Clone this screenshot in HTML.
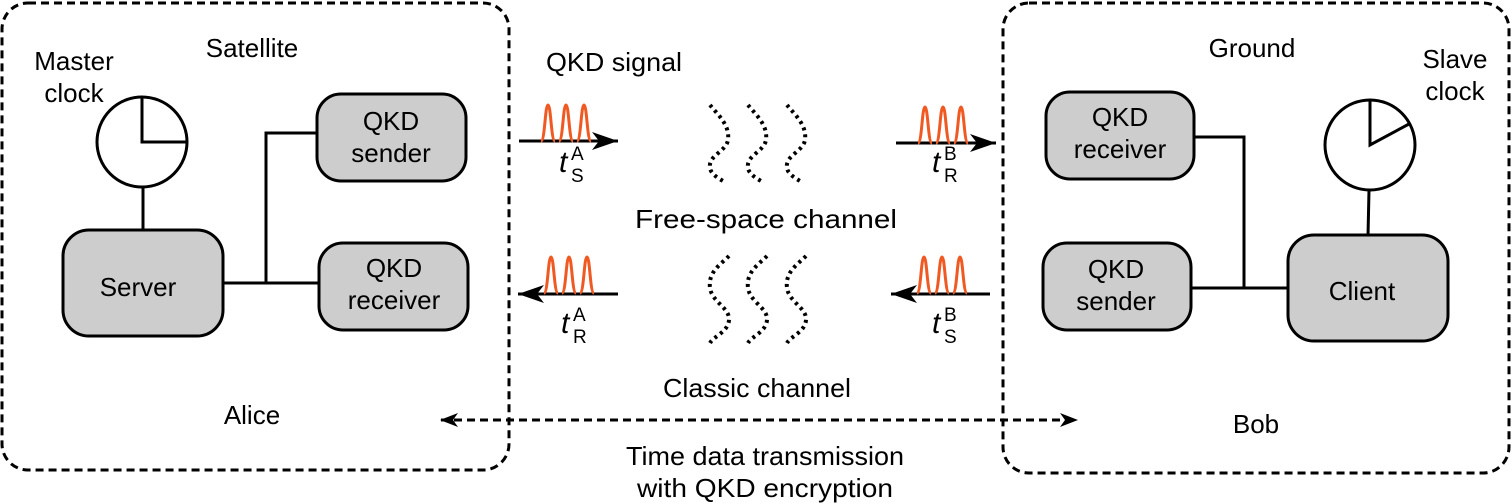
<!DOCTYPE html>
<html><head><meta charset="utf-8"><style>
html,body{margin:0;padding:0;background:#fff;}
svg{display:block;font-family:"Liberation Sans",Arial,sans-serif;}
</style></head><body>
<svg width="1512" height="504" viewBox="0 0 1512 504" xmlns="http://www.w3.org/2000/svg">
<defs>
<marker id="ah" markerWidth="18" markerHeight="14" refX="17" refY="7" orient="auto-start-reverse" markerUnits="userSpaceOnUse">
<path d="M0,0 L18,7 L0,14 L5,7 Z" fill="#000"/></marker>
<marker id="ah2" markerWidth="26" markerHeight="18" refX="26" refY="9" orient="auto" markerUnits="userSpaceOnUse">
<path d="M0,0 L26,9 L0,18 L7,9 Z" fill="#000"/></marker>
<path id="pulses" d="M0,0 C4,0 4,-36 7,-36 C10,-36 10,0 14,0 M18,0 C22,0 22,-36 25,-36 C28,-36 28,0 32,0 M36,0 C40,0 40,-36 43,-36 C46,-36 46,0 50,0" fill="none" stroke="#f05a22" stroke-width="3"/>
<path id="wv1" d="M710,105 C718,115 730,125 728,140 C726,152 708,155 710,168 C711,174 718,178 723,181" fill="none" stroke="#000" stroke-width="4" stroke-dasharray="3,4"/>
<path id="wv2" d="M729,256 C720,265 708,272 710,288 C712,302 730,308 729,320 C728,332 714,336 710,343" fill="none" stroke="#000" stroke-width="4" stroke-dasharray="3,4"/>
</defs>
<g fill="none" stroke="#000" stroke-width="3" stroke-dasharray="8,5">
<rect x="2" y="3" width="507" height="467" rx="26"/>
<rect x="1003" y="3" width="506" height="470" rx="26"/>
</g>
<line x1="441" y1="420" x2="1077" y2="420" stroke="#000" stroke-width="3" stroke-dasharray="8,5" marker-end="url(#ah)" marker-start="url(#ah)"/>
<g fill="none" stroke="#000" stroke-width="3">
<circle cx="142" cy="142" r="45" fill="#fff"/>
<path d="M142,97 L142,142 L187,142"/>
<line x1="143" y1="187" x2="143" y2="231"/>
<path d="M223,283 L318,283 M266,283 L266,133 L318,133"/>
<circle cx="1370" cy="145" r="45" fill="#fff"/>
<path d="M1370,100 L1370,145 L1409,124"/>
<line x1="1369" y1="190" x2="1368" y2="236"/>
<path d="M1194,137 L1244,137 L1244,288 M1191,288 L1289,288"/>
</g>
<g fill="#cdcdcd" stroke="#000" stroke-width="3">
<rect x="63" y="230" width="160" height="106" rx="26"/>
<rect x="317" y="94" width="149" height="87" rx="24"/>
<rect x="319" y="243" width="149" height="87" rx="24"/>
<rect x="1288" y="235" width="160" height="106" rx="26"/>
<rect x="1046" y="92" width="148" height="87" rx="24"/>
<rect x="1043" y="243" width="148" height="87" rx="24"/>
</g>
<g font-size="26" text-anchor="middle" fill="#000">
<text x="252" y="57">Satellite</text>
<text x="74" y="70">Master</text><text x="74" y="102">clock</text>
<text x="138" y="296">Server</text>
<text x="391" y="130">QKD</text><text x="391" y="162">sender</text>
<text x="394" y="277">QKD</text><text x="394" y="309">receiver</text>
<text x="252" y="424">Alice</text>
<text x="1252" y="57">Ground</text>
<text x="1455" y="68">Slave</text><text x="1455" y="100">clock</text>
<text x="1120" y="126">QKD</text><text x="1120" y="158">receiver</text>
<text x="1116" y="278">QKD</text><text x="1116" y="310">sender</text>
<text x="1362" y="300">Client</text>
<text x="1256" y="433">Bob</text>
<text x="614" y="71" textLength="136" lengthAdjust="spacingAndGlyphs">QKD signal</text>
<text x="766" y="228" textLength="262" lengthAdjust="spacingAndGlyphs">Free-space channel</text>
<text x="757" y="397" textLength="188" lengthAdjust="spacingAndGlyphs">Classic channel</text>
<text x="765" y="465" textLength="278" lengthAdjust="spacingAndGlyphs">Time data transmission</text>
<text x="765" y="497" textLength="256" lengthAdjust="spacingAndGlyphs">with QKD encryption</text>
</g>
<g stroke="#000" stroke-width="3">
<line x1="519" y1="141" x2="618" y2="141" marker-end="url(#ah2)"/>
<line x1="896" y1="143" x2="996" y2="143" marker-end="url(#ah2)"/>
<line x1="618" y1="294" x2="518" y2="294" marker-end="url(#ah2)"/>
<line x1="990" y1="294" x2="891" y2="294" marker-end="url(#ah2)"/>
</g>
<use href="#pulses" x="541" y="141"/>
<use href="#pulses" x="918" y="143"/>
<use href="#pulses" x="544" y="293"/>
<use href="#pulses" x="917" y="293"/>
<use href="#wv1"/><use href="#wv1" x="38"/><use href="#wv1" x="77"/>
<use href="#wv2"/><use href="#wv2" x="38"/><use href="#wv2" x="77"/>
<g font-size="30" fill="#000">
<text x="559" y="172" font-style="italic">t</text><text x="571" y="160" font-size="19">A</text><text x="571" y="182" font-size="19">S</text>
<text x="932" y="172" font-style="italic">t</text><text x="944" y="160" font-size="19">B</text><text x="944" y="182" font-size="19">R</text>
<text x="561" y="333" font-style="italic">t</text><text x="573" y="321" font-size="19">A</text><text x="573" y="343" font-size="19">R</text>
<text x="932" y="333" font-style="italic">t</text><text x="944" y="321" font-size="19">B</text><text x="944" y="343" font-size="19">S</text>
</g>
</svg>
</body></html>
